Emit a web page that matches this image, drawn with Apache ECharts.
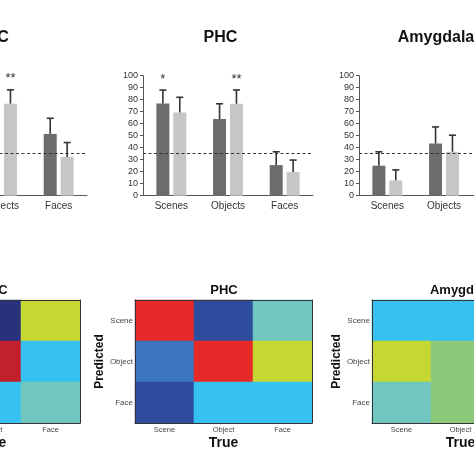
<!DOCTYPE html>
<html><head><meta charset="utf-8">
<script src="https://cdn.jsdelivr.net/npm/echarts@6/dist/echarts.min.js"></script>
<style>html,body{margin:0;padding:0;background:#fff}#c{width:474px;height:474px}</style>
</head><body><div id="c"></div>
<script>
// ---------- data ----------
const regions = ['PRC', 'PHC', 'Amygdala'];
const barCategories = ['Scenes', 'Objects', 'Faces'];
const yTicks = [0, 10, 20, 30, 40, 50, 60, 70, 80, 90, 100];
const chanceLevel = 35;
// bars off the picture are null
const prcDark = [null, null, 51.5];
const prcDarkErr = [null, null, 13];
const prcLight = [null, 76.7, 32.3];
const prcLightErr = [null, 11.5, 12];
const phcDark = [76.9, 63.9, 25.5];
const phcDarkErr = [11.1, 12.7, 11.1];
const phcLight = [69.4, 76.6, 19.7];
const phcLightErr = [12.6, 11.5, 10];
const amyDark = [25, 43.5, null];
const amyDarkErr = [11.6, 13.8, null];
const amyLight = [12.7, 36.6, null];
const amyLightErr = [8.8, 13.8, null];
const prcDarkStars = ['', '', ''];
const prcLightStars = ['', '**', ''];
const phcDarkStars = ['*', '', ''];
const phcLightStars = ['', '**', ''];
const amyDarkStars = ['', '', ''];
const amyLightStars = ['', '', ''];

const matrixLabels = ['Scene', 'Object', 'Face'];
// rows = predicted (Scene, Object, Face); cols = true (Scene, Object, Face); colour level 0..0.8
const prcMatrix = [
  [null, 0.0, 0.6],
  [null, 0.8, 0.3],
  [null, 0.3, 0.4]
];
const phcMatrix = [
  [0.7, 0.1, 0.4],
  [0.2, 0.7, 0.6],
  [0.1, 0.3, 0.3]
];
const amyMatrix = [
  [0.3, 0.3, null],
  [0.6, 0.5, null],
  [0.4, 0.5, null]
];
const matrixPalette = ['#29317d', '#2f4d9f', '#3b74bf', '#37c1f0', '#6fc7c0', '#8cc97b', '#c5d832', '#e8292a', '#c1212c'];

// ---------- layout ----------
const FONT = 'Liberation Sans, Arial, sans-serif';
const barGridLeft = [-83, 143, 359];
const heatGridLeft = [-97, 135, 372];
const darkSets = [[prcDark, prcDarkErr, prcDarkStars], [phcDark, phcDarkErr, phcDarkStars], [amyDark, amyDarkErr, amyDarkStars]];
const lightSets = [[prcLight, prcLightErr, prcLightStars], [phcLight, phcLightErr, phcLightStars], [amyLight, amyLightErr, amyLightStars]];
const matrices = [prcMatrix, phcMatrix, amyMatrix];

const grid = [], xAxis = [], yAxis = [], series = [];
const BW = 13, OFF = 8.45;

function errRender(offset, stars) {
  return function (params, api) {
    const i = api.value(0), v = api.value(1), e = api.value(2);
    if (isNaN(v)) return;
    const base = api.coord([i, v]);
    const top = api.coord([i, v + e]);
    const cx = base[0] + offset;
    const ch = [
      {type: 'line', shape: {x1: cx, y1: base[1], x2: cx, y2: top[1]}, style: {stroke: '#333', lineWidth: 1.6}},
      {type: 'line', shape: {x1: cx - 3.5, y1: top[1], x2: cx + 3.5, y2: top[1]}, style: {stroke: '#333', lineWidth: 1.6}}
    ];
    const s = stars[i];
    if (s) ch.push({type: 'text', x: cx, y: top[1] - 11, style: {text: s, fontSize: 13, fontFamily: FONT, fill: '#333', align: 'center', verticalAlign: 'middle'}});
    return {type: 'group', children: ch};
  };
}

regions.forEach((r, g) => {
  grid.push({left: barGridLeft[g], top: 75.7, width: 170, height: 120, containLabel: false, outerBoundsMode: 'none'});
  xAxis.push({gridIndex: g, type: 'category', data: barCategories,
    axisLine: {lineStyle: {color: '#555', width: 1}}, axisTick: {show: false},
    axisLabel: {fontSize: 10, color: '#333', margin: 6, fontFamily: FONT}});
  yAxis.push({gridIndex: g, type: 'value', min: yTicks[0], max: yTicks[yTicks.length - 1], interval: 10,
    axisLine: {show: true, lineStyle: {color: '#555'}}, axisTick: {show: true, length: 3, lineStyle: {color: '#555'}},
    splitLine: {show: false}, axisLabel: {fontSize: 9, color: '#333', margin: 5, fontFamily: FONT}});
  const [dv, de, ds] = darkSets[g];
  const [lv, le, ls] = lightSets[g];
  series.push({type: 'bar', xAxisIndex: g, yAxisIndex: g, data: dv, barWidth: BW, barGap: '30%',
    itemStyle: {color: '#6c6c6c'}, silent: true,
    markLine: {silent: true, symbol: 'none', label: {show: false},
      lineStyle: {color: '#333', type: [3, 2.5], width: 1.2}, data: [{yAxis: chanceLevel}]}});
  series.push({type: 'bar', xAxisIndex: g, yAxisIndex: g, data: lv, barWidth: BW, barGap: '30%',
    itemStyle: {color: '#c6c6c6'}, silent: true});
  series.push({type: 'custom', xAxisIndex: g, yAxisIndex: g, renderItem: errRender(-OFF, ds),
    encode: {x: 0, y: 1}, data: dv.map((v, i) => [i, v == null ? NaN : v, de[i] == null ? NaN : de[i]]), z: 5});
  series.push({type: 'custom', xAxisIndex: g, yAxisIndex: g, renderItem: errRender(OFF, ls),
    encode: {x: 0, y: 1}, data: lv.map((v, i) => [i, v == null ? NaN : v, le[i] == null ? NaN : le[i]]), z: 5});
});

const heatSeriesIdx = [];
regions.forEach((r, k) => {
  const g = 3 + k;
  grid.push({left: heatGridLeft[k], top: 300, width: 177, height: 123, containLabel: false, outerBoundsMode: 'none'});
  xAxis.push({gridIndex: g, type: 'category', data: matrixLabels, position: 'bottom', z: 10,
    name: 'True', nameLocation: 'middle', nameGap: 13,
    nameTextStyle: {fontSize: 14, fontWeight: 'bold', color: '#111', fontFamily: FONT},
    axisLine: {lineStyle: {color: '#333', width: 1}},
    axisTick: {inside: true, alignWithLabel: true, length: 3, lineStyle: {color: '#333'}},
    axisLabel: {fontSize: 7.5, color: '#444', margin: 3, fontFamily: FONT}});
  yAxis.push({gridIndex: g, type: 'category', data: matrixLabels, inverse: true, z: 10,
    name: 'Predicted', nameLocation: 'middle', nameGap: 21,
    nameTextStyle: {fontSize: 12, fontWeight: 'bold', color: '#111', fontFamily: FONT},
    axisLine: {lineStyle: {color: '#333', width: 1}},
    axisTick: {inside: true, alignWithLabel: true, length: 3, lineStyle: {color: '#333'}},
    axisLabel: {fontSize: 8, color: '#444', margin: 2, fontFamily: FONT}});
  const m = matrices[k];
  const data = [];
  m.forEach((row, ri) => row.forEach((v, ci) => { if (v != null) data.push([ci, ri, v]); }));
  heatSeriesIdx.push(series.length);
  series.push({type: 'heatmap', xAxisIndex: 3 + k, yAxisIndex: 3 + k, data: data, silent: true});
});
// frame top / right with inside ticks
regions.forEach((r, k) => {
  const g = 3 + k;
  xAxis.push({gridIndex: g, type: 'category', data: matrixLabels, position: 'top', z: 10,
    axisLine: {lineStyle: {color: '#333', width: 1}},
    axisTick: {inside: true, alignWithLabel: true, length: 3, lineStyle: {color: '#333'}},
    axisLabel: {show: false}});
  yAxis.push({gridIndex: g, type: 'category', data: matrixLabels, inverse: true, position: 'right', z: 10,
    axisLine: {lineStyle: {color: '#333', width: 1}},
    axisTick: {inside: true, alignWithLabel: true, length: 3, lineStyle: {color: '#333'}},
    axisLabel: {show: false}});
});

const topTitleX = [-8, 220.5, 436];
const botTitleX = [-6, 224, 461];
const graphic = [];
regions.forEach((r, k) => {
  graphic.push({type: 'text', x: topTitleX[k], y: 37.5, style: {text: r, fontSize: 16, fontWeight: 'bold', fontFamily: FONT, fill: '#111', align: 'center', verticalAlign: 'middle'}});
  graphic.push({type: 'text', x: botTitleX[k], y: 290.5, style: {text: r, fontSize: 13, fontWeight: 'bold', fontFamily: FONT, fill: '#111', align: 'center', verticalAlign: 'middle'}});
});

const chart = echarts.init(document.getElementById('c'), null, {renderer: 'canvas'});
chart.setOption({
  backgroundColor: '#fff',
  animation: false,
  textStyle: {fontFamily: FONT},
  grid, xAxis, yAxis, series, graphic,
  visualMap: {type: 'continuous', show: false, min: 0, max: 0.8, seriesIndex: heatSeriesIdx,
    inRange: {color: matrixPalette}}
});
</script></body></html>
